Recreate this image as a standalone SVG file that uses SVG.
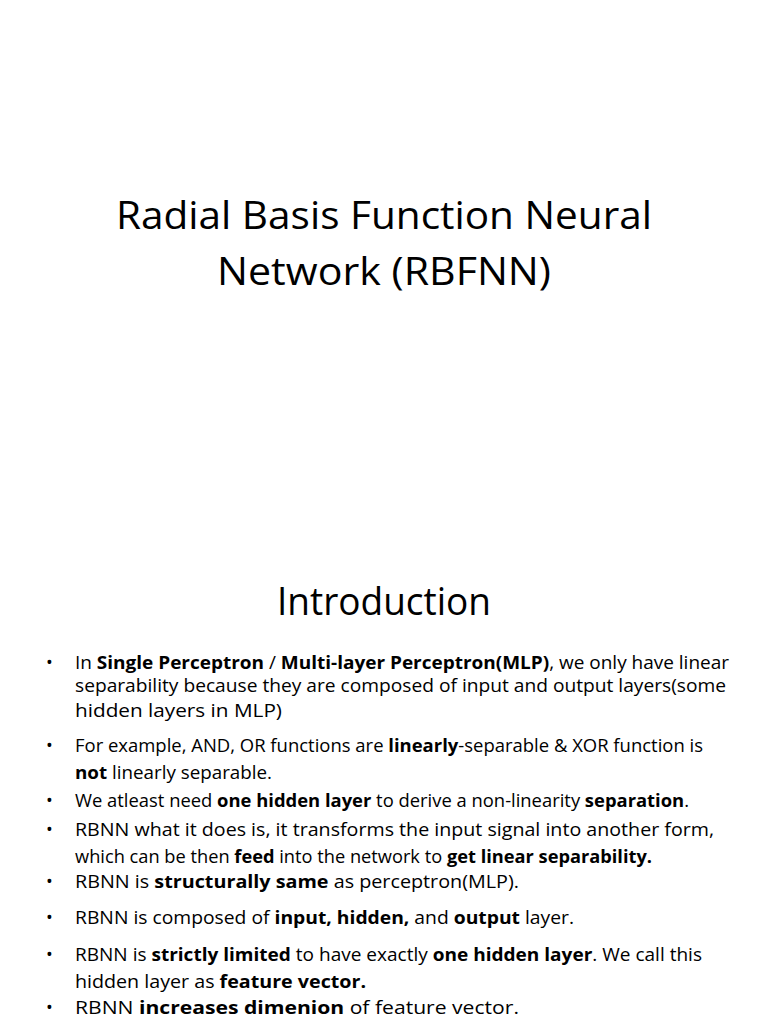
<svg xmlns="http://www.w3.org/2000/svg" width="768" height="1024" viewBox="0 0 768 1024">
<style>
.t{font-family:"Open Sans","Liberation Sans",sans-serif;fill:#000}
.h{font-size:39px;text-anchor:middle}
.b{font-size:18px}
.bold{font-weight:bold}
</style>
<rect width="768" height="1024" fill="#fff"/>
<text class="t h" x="384" y="229" textLength="536" lengthAdjust="spacingAndGlyphs">Radial Basis Function Neural</text>
<text class="t h" x="384" y="285" textLength="334" lengthAdjust="spacingAndGlyphs">Network (RBFNN)</text>
<text class="t h" x="384" y="615" textLength="214" lengthAdjust="spacingAndGlyphs">Introduction</text>
<g class="t b">
<text x="46" y="669">•</text><text x="46" y="752">•</text><text x="46" y="807">•</text><text x="46" y="836">•</text><text x="46" y="888">•</text><text x="46" y="924">•</text><text x="46" y="961">•</text><text x="46" y="1014">•</text>
<text x="75" y="669" textLength="654" lengthAdjust="spacingAndGlyphs">In <tspan class="bold">Single Perceptron</tspan> / <tspan class="bold">Multi-layer Perceptron(MLP)</tspan>, we only have linear</text>
<text x="75" y="692" textLength="651" lengthAdjust="spacingAndGlyphs">separability because they are composed of input and output layers(some</text>
<text x="75" y="717" textLength="207" lengthAdjust="spacingAndGlyphs">hidden layers in MLP)</text>
<text x="75" y="752" textLength="628" lengthAdjust="spacingAndGlyphs">For example, AND, OR functions are <tspan class="bold">linearly</tspan>-separable &amp; XOR function is</text>
<text x="75" y="779" textLength="197" lengthAdjust="spacingAndGlyphs"><tspan class="bold">not</tspan> linearly separable.</text>
<text x="75" y="807" textLength="614" lengthAdjust="spacingAndGlyphs">We atleast need <tspan class="bold">one hidden layer</tspan> to derive a non-linearity <tspan class="bold">separation</tspan>.</text>
<text x="75" y="836" textLength="639" lengthAdjust="spacingAndGlyphs">RBNN what it does is, it transforms the input signal into another form,</text>
<text x="75" y="863" textLength="577" lengthAdjust="spacingAndGlyphs">which can be then <tspan class="bold">feed</tspan> into the network to <tspan class="bold">get linear separability.</tspan></text>
<text x="75" y="888" textLength="444" lengthAdjust="spacingAndGlyphs">RBNN is <tspan class="bold">structurally same</tspan> as perceptron(MLP).</text>
<text x="75" y="924" textLength="499" lengthAdjust="spacingAndGlyphs">RBNN is composed of <tspan class="bold">input, hidden,</tspan> and <tspan class="bold">output</tspan> layer.</text>
<text x="75" y="961" textLength="627" lengthAdjust="spacingAndGlyphs">RBNN is <tspan class="bold">strictly limited</tspan> to have exactly <tspan class="bold">one hidden layer</tspan>. We call this</text>
<text x="75" y="988" textLength="291" lengthAdjust="spacingAndGlyphs">hidden layer as <tspan class="bold">feature vector.</tspan></text>
<text x="75" y="1014" textLength="444" lengthAdjust="spacingAndGlyphs">RBNN <tspan class="bold">increases dimenion</tspan> of feature vector.</text>
</g>
</svg>
